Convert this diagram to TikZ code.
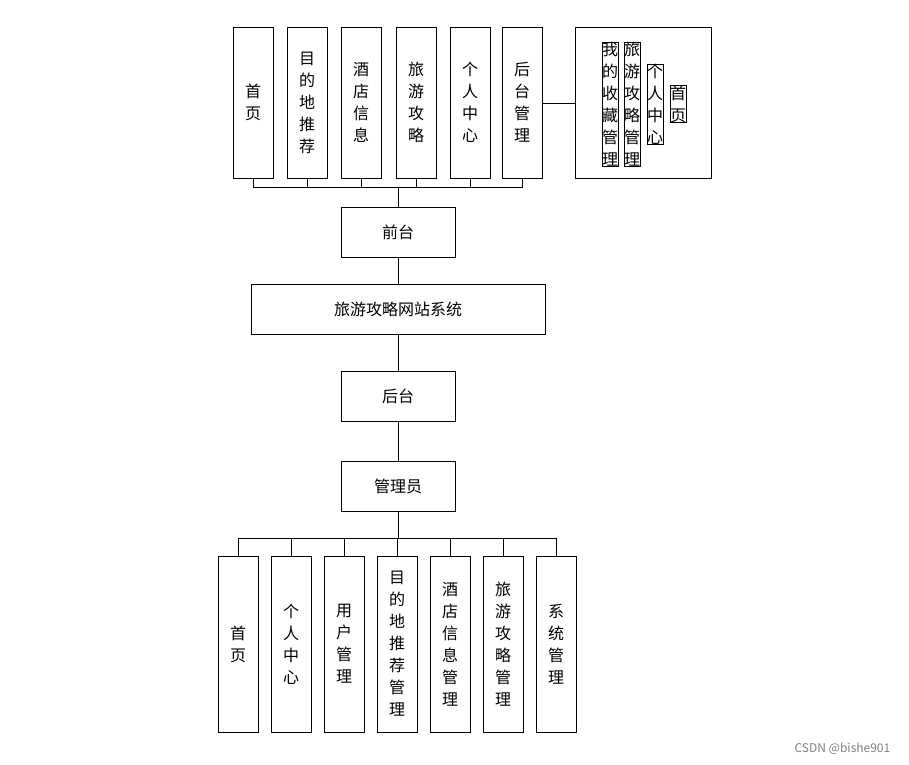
\documentclass[tikz,border=0pt]{standalone}
\usepackage{fontspec}
\setmainfont{Noto Sans CJK SC}
\usetikzlibrary{positioning}
\begin{document}
\begin{tikzpicture}[x=0.75pt,y=-0.75pt,
      mybox/.style={
         draw=black,
         fill=white,
         inner sep=0pt,
         align=center,
         font=\fontsize{12}{16.5}\selectfont},
      tallbox/.style={mybox,minimum width=30pt,minimum height=113pt},
      lowbox/.style={mybox,minimum width=30pt,minimum height=132pt},
      midbox/.style={mybox,minimum width=85.5pt,minimum height=37.5pt}
      ]
      \useasboundingbox (0,0) rectangle (909,764);
      % front end
      \foreach \n/\x/\txt in {t1/253/首\\页, t2/307/目\\的\\地\\推\\荐, t3/361/酒\\店\\信\\息,
        t4/416/旅\\游\\攻\\略, t5/470/个\\人\\中\\心, t6/522/后\\台\\管\\理}
        \node[tallbox] (\n) at (\x,102.5) {\txt};
      \node[mybox,minimum width=102pt,minimum height=113pt] (right) at (643,102.5) {};
      \node[mybox,anchor=center] (r1) at (610,104) {我\\的\\收\\藏\\管\\理};
      \node[mybox,anchor=center] (r2) at (632,104) {旅\\游\\攻\\略\\管\\理};
      \node[mybox,anchor=center] (r3) at (655,104) {个\\人\\中\\心};
      \node[mybox,anchor=center] (r4) at (678,104) {首\\页};
      \draw (t6.east |- 0,103) -- (right.west |- 0,103);
      \node[midbox] (qt) at (398,232) {前台};
      \node[mybox,minimum width=220.5pt,minimum height=37.5pt] (sys) at (398,309.5) {旅游攻略网站系统};
      \node[midbox] (ht) at (398,396.5) {后台};
      \node[midbox] (gly) at (398,486.5) {管理员};
      \draw (qt.north) -- ++(0,-19) coordinate (topbus);
      \foreach \n in {t1,t2,t3,t4,t5,t6}
        \draw (\n.south) |- (topbus);
      \draw (qt) -- (sys);
      \draw (sys) -- (ht);
      \draw (ht) -- (gly);
      % back end
      \foreach \n/\x/\txt in {b1/238/首\\页, b2/291/个\\人\\中\\心, b3/344/用\\户\\管\\理,
        b4/397/目\\的\\地\\推\\荐\\管\\理, b5/450/酒\\店\\信\\息\\管\\理,
        b6/503/旅\\游\\攻\\略\\管\\理, b7/556/系\\统\\管\\理}
        \node[lowbox] (\n) at (\x,644) {\txt};
      \draw (gly.south) -- ++(0,26) coordinate (lowbus);
      \foreach \n in {b1,b2,b3,b4,b5,b6,b7}
        \draw (\n.north) |- (lowbus);
      \node[font=\fontsize{9}{10}\selectfont,text=gray,anchor=east] (mark) at (895,749) {CSDN @bishe901};
\end{tikzpicture}
\end{document}
